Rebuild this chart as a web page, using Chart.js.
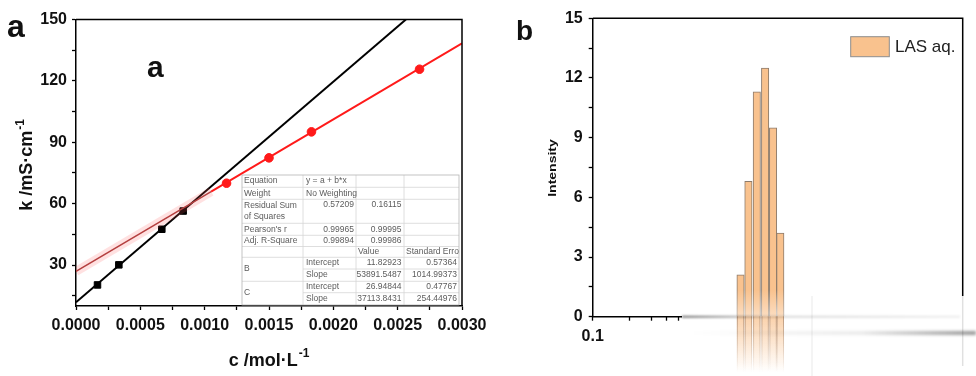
<!DOCTYPE html>
<html>
<head>
<meta charset="utf-8">
<script src="https://cdn.jsdelivr.net/npm/chart.js@4.4.0/dist/chart.umd.min.js"></script>
<style>
    html, body { margin: 0; padding: 0; background: #fff; }
    #wrap { position: relative; width: 976px; height: 376px; overflow: hidden; }
    #boxA { position: absolute; left: 0; top: 0; width: 500px; height: 376px; }
    #boxB { position: absolute; left: 500px; top: 0; width: 476px; height: 376px; }
</style>
</head>
<body>
<div id="wrap">
    <div id="boxA"><canvas id="chartA" width="500" height="376"></canvas></div>
    <div id="boxB"><canvas id="chartB" width="476" height="376"></canvas></div>
</div>
<script>
// ---- panel a data (conductivity vs concentration) ----
var blackC = [0.000167, 0.000333, 0.000667, 0.000833];
var blackK = [20.3, 30.1, 47.5, 56.4];
var redC = [0.00117, 0.0015, 0.00183, 0.00267];
var redK = [70.0, 82.4, 95.1, 125.7];
// fitted lines, end points
var blackLineC = [0, 0.002564];
var blackLineK = [11.8, 150];
var redExtraC = [0, 0.00105];
var redExtraK = [26.9, 65.9];
var redLineC = [0.00105, 0.003];
var redLineK = [65.9, 138.3];
var cTicks = [0, 0.00025, 0.0005, 0.00075, 0.001, 0.00125, 0.0015, 0.00175, 0.002, 0.00225, 0.0025, 0.00275, 0.003];
var cLabels = ['0.0000', '', '0.0005', '', '0.0010', '', '0.0015', '', '0.0020', '', '0.0025', '', '0.0030'];
var kTicks = [15, 30, 45, 60, 75, 90, 105, 120, 135, 150];
var kLabels = ['', '30', '', '60', '', '90', '', '120', '', '150'];

// fit table
var tabCol1 = ['Equation', 'Weight', 'Residual Sum|of Squares', "Pearson's r", 'Adj. R-Square', '', 'B', '', 'C', ''];
var tabCol2 = ['y = a + b*x', 'No Weighting', '', '', '', '', 'Intercept', 'Slope', 'Intercept', 'Slope'];
var tabCol3 = ['', '', '0.57209', '0.99965', '0.99894', '', '', '', '', ''];
var tabCol4 = ['', '', '0.16115', '0.99995', '0.99986', 'Value', '11.82923', '53891.5487', '26.94844', '37113.8431'];
var tabCol5 = ['', '', '', '', '', 'Standard Erro', '0.57364', '1014.99373', '0.47767', '254.44976'];

// ---- panel b data (size distribution) ----
var sizes = [1.58, 1.83, 2.14, 2.50, 2.90, 3.32];
var intensity = [2.1, 6.8, 11.3, 12.5, 9.5, 4.2];
var sizeTicks = [0.1, 0.2, 0.3, 0.4, 0.5];
var intTicks = [0, 1.5, 3, 4.5, 6, 7.5, 9, 10.5, 12, 13.5, 15];
var intLabels = ['0', '', '3', '', '6', '', '9', '', '12', '', '15'];

var FONT = "'Liberation Sans', Arial, Helvetica, sans-serif";

function toPts(xs, ys) {
    return xs.map(function (x, i) { return {x: x, y: ys[i]}; });
}

function supText(ctx, main, sup, x, y, size, align) {
    ctx.font = 'bold ' + size + 'px ' + FONT;
    var w1 = ctx.measureText(main).width;
    ctx.font = 'bold ' + Math.round(size * 0.68) + 'px ' + FONT;
    var w2 = ctx.measureText(sup).width;
    var start = align === 'center' ? x - (w1 + w2 + 1) / 2 : x;
    ctx.textAlign = 'left';
    ctx.textBaseline = 'alphabetic';
    ctx.font = 'bold ' + size + 'px ' + FONT;
    ctx.fillText(main, start, y);
    ctx.font = 'bold ' + Math.round(size * 0.68) + 'px ' + FONT;
    ctx.fillText(sup, start + w1 + 1, y - size * 0.45);
}

// top and right frame lines
var frameA = {
    id: 'frameA',
    afterDatasetsDraw: function (chart) {
        var a = chart.chartArea, ctx = chart.ctx;
        ctx.save();
        ctx.strokeStyle = '#000';
        ctx.lineWidth = 1.5;
        ctx.beginPath();
        ctx.moveTo(a.left, a.top);
        ctx.lineTo(a.right, a.top);
        ctx.lineTo(a.right, a.bottom);
        ctx.stroke();
        ctx.restore();
    }
};

var tableA = {
    id: 'tableA',
    afterDraw: function (chart) {
        var ctx = chart.ctx;
        var cols = [242, 303, 356, 404, 459];
        var rows = [175, 187.3, 199.3, 223.3, 235.3, 246.5, 257.3, 269, 281.3, 292.7, 305];
        ctx.save();
        ctx.fillStyle = '#fff';
        ctx.fillRect(cols[0], rows[0], cols[4] - cols[0], rows[10] - rows[0]);
        ctx.strokeStyle = '#d6d6d6';
        ctx.lineWidth = 0.8;
        ctx.beginPath();
        for (var r = 1; r < rows.length - 1; r++) {
            var x0 = (r === 7 || r === 9) ? cols[1] : cols[0];
            ctx.moveTo(x0, rows[r]);
            ctx.lineTo(cols[4], rows[r]);
        }
        for (var c = 1; c < cols.length - 1; c++) {
            ctx.moveTo(cols[c], rows[0]);
            ctx.lineTo(cols[c], rows[10]);
        }
        ctx.stroke();
        ctx.strokeStyle = '#b5b5b5';
        ctx.strokeRect(cols[0], rows[0], cols[4] - cols[0], rows[10] - rows[0]);

        ctx.fillStyle = '#5c5c5c';
        ctx.font = '8.5px ' + FONT;
        ctx.textBaseline = 'middle';
        ctx.beginPath();
        ctx.rect(cols[0], rows[0], cols[4] - cols[0], rows[10] - rows[0]);
        ctx.clip();
        for (var i = 0; i < 10; i++) {
            var mid = (rows[i] + rows[i + 1]) / 2;
            if (i === 2) mid = 205;
            var t1 = tabCol1[i];
            ctx.textAlign = 'left';
            if (t1.indexOf('|') >= 0) {
                var parts = t1.split('|');
                ctx.fillText(parts[0], 244, 205.5);
                ctx.fillText(parts[1], 244, 216.5);
            } else if (t1 === 'B' || t1 === 'C') {
                ctx.fillText(t1, 244, rows[i + 1]);
            } else {
                ctx.fillText(t1, 244, mid);
            }
            ctx.fillText(tabCol2[i], 306, mid);
            if (i === 5) {
                ctx.fillText(tabCol4[i], 358, mid);
                ctx.fillText(tabCol5[i], 406, mid);
            } else {
                ctx.textAlign = 'right';
                ctx.fillText(tabCol3[i], 354, mid);
                ctx.fillText(tabCol4[i], 401.5, mid);
                ctx.fillText(tabCol5[i], 457, mid);
            }
        }
        ctx.restore();
    }
};

var textA = {
    id: 'textA',
    afterDraw: function (chart) {
        var ctx = chart.ctx;
        ctx.save();
        ctx.fillStyle = '#111';
        ctx.textAlign = 'left';
        ctx.textBaseline = 'alphabetic';
        ctx.font = 'bold 32px ' + FONT;
        ctx.fillText('a', 7, 37);
        ctx.font = 'bold 30px ' + FONT;
        ctx.fillText('a', 147, 77);
        supText(ctx, 'c /mol\u00b7L', '-1', 269, 365.5, 18, 'center');
        ctx.translate(25, 165);
        ctx.rotate(-Math.PI / 2);
        supText(ctx, 'k /mS\u00b7cm', '-1', 0, 7, 18, 'center');
        ctx.restore();
    }
};

new Chart(document.getElementById('chartA'), {
    type: 'scatter',
    data: {
        datasets: [
            {data: toPts(redExtraC, redExtraK), showLine: true, borderColor: 'rgba(255,90,90,0.18)', borderWidth: 9, pointRadius: 0},
            {data: toPts(redExtraC, redExtraK), showLine: true, borderColor: '#a43a3a', borderWidth: 1.5, pointRadius: 0},
            {data: toPts(redLineC, redLineK), showLine: true, borderColor: '#ff1a1a', borderWidth: 2, pointRadius: 0},
            {data: toPts(blackLineC, blackLineK), showLine: true, borderColor: '#000', borderWidth: 2, pointRadius: 0},
            {data: toPts(blackC, blackK), pointStyle: 'rect', pointRadius: 4.6, backgroundColor: '#000', borderColor: '#000'},
            {data: toPts(redC, redK), pointStyle: 'circle', pointRadius: 4.3, backgroundColor: '#ff1a1a', borderColor: '#ff1a1a'}
        ]
    },
    options: {
        responsive: false,
        animation: false,
        devicePixelRatio: 1,
        layout: {padding: {left: 0, top: 19.5, right: 38, bottom: 0}},
        plugins: {legend: {display: false}, tooltip: {enabled: false}},
        scales: {
            x: {
                type: 'linear', min: 0, max: 0.003, offset: false,
                afterBuildTicks: function (s) { s.ticks = cTicks.map(function (v) { return {value: v}; }); },
                afterFit: function (s) { s.height = 70; },
                grid: {drawOnChartArea: false, tickLength: 4, color: '#000', tickWidth: 1.3},
                border: {color: '#000', width: 1.5},
                ticks: {
                    autoSkip: false, maxRotation: 0, padding: 6, color: '#111',
                    font: {family: FONT, size: 16, weight: 'bold'},
                    callback: function (v, i) { return cLabels[i]; }
                }
            },
            y: {
                min: 10, max: 150,
                afterBuildTicks: function (s) { s.ticks = kTicks.map(function (v) { return {value: v}; }); },
                afterFit: function (s) { s.width = 76; },
                grid: {drawOnChartArea: false, tickLength: 4, color: '#000', tickWidth: 1.3},
                border: {color: '#000', width: 1.5},
                ticks: {
                    autoSkip: false, padding: 5, color: '#111',
                    font: {family: FONT, size: 16, weight: 'bold'},
                    callback: function (v, i) { return kLabels[i]; }
                }
            }
        }
    },
    plugins: [frameA, tableA, textA]
});

// ---- panel b ----
var BAR_FILL = '#f9c28e';
var BAR_EDGE = '#8c7b6c';

var decoB = {
    id: 'decoB',
    afterDatasetsDraw: function (chart) {
        var a = chart.chartArea, ctx = chart.ctx;
        var fadeTop = 296;
        ctx.save();
        // washed-out lower part and reflection of the bars
        chart.getDatasetMeta(0).data.forEach(function (el) {
            var p = el.getProps(['x', 'base', 'width'], true);
            var l = p.x - p.width / 2;
            var g1 = ctx.createLinearGradient(0, fadeTop - 6, 0, p.base);
            g1.addColorStop(0, 'rgba(255,255,255,0)');
            g1.addColorStop(1, 'rgba(255,255,255,0.45)');
            ctx.fillStyle = g1;
            ctx.fillRect(l - 0.5, fadeTop - 6, p.width + 1, p.base - fadeTop + 6);
            var g2 = ctx.createLinearGradient(0, p.base, 0, 372);
            g2.addColorStop(0, 'rgba(249,194,142,0.75)');
            g2.addColorStop(1, 'rgba(249,194,142,0)');
            ctx.fillStyle = g2;
            ctx.fillRect(l, p.base, p.width, 372 - p.base);
            var g3 = ctx.createLinearGradient(0, p.base, 0, 372);
            g3.addColorStop(0, 'rgba(140,110,90,0.55)');
            g3.addColorStop(1, 'rgba(140,110,90,0)');
            ctx.fillStyle = g3;
            ctx.fillRect(l, p.base, 1, 372 - p.base);
            ctx.fillRect(l + p.width - 1, p.base, 1, 372 - p.base);
        });
        // frame: top and right
        ctx.strokeStyle = '#000';
        ctx.lineWidth = 1.5;
        ctx.beginPath();
        ctx.moveTo(a.left, a.top);
        ctx.lineTo(a.right, a.top);
        ctx.lineTo(a.right, fadeTop);
        ctx.stroke();
        ctx.strokeStyle = 'rgba(0,0,0,0.12)';
        ctx.beginPath();
        ctx.moveTo(a.right, fadeTop);
        ctx.lineTo(a.right, 366);
        ctx.stroke();
        // x axis line, solid then fading out
        var y0 = a.bottom;
        ctx.strokeStyle = '#000';
        ctx.beginPath();
        ctx.moveTo(a.left, y0);
        ctx.lineTo(182, y0);
        ctx.stroke();
        ctx.filter = 'blur(0.8px)';
        var g4 = ctx.createLinearGradient(182, 0, 460, 0);
        g4.addColorStop(0, 'rgba(0,0,0,0.55)');
        g4.addColorStop(0.3, 'rgba(0,0,0,0.16)');
        g4.addColorStop(1, 'rgba(0,0,0,0.07)');
        ctx.strokeStyle = g4;
        ctx.lineWidth = 2;
        ctx.beginPath();
        ctx.moveTo(182, y0);
        ctx.lineTo(460, y0);
        ctx.stroke();
        // blurred streak below the axis
        ctx.filter = 'blur(1.5px)';
        var g5 = ctx.createLinearGradient(190, 0, 476, 0);
        g5.addColorStop(0, 'rgba(0,0,0,0)');
        g5.addColorStop(0.6, 'rgba(0,0,0,0.08)');
        g5.addColorStop(1, 'rgba(0,0,0,0.4)');
        ctx.strokeStyle = g5;
        ctx.lineWidth = 4;
        ctx.beginPath();
        ctx.moveTo(190, 333);
        ctx.lineTo(476, 333);
        ctx.stroke();
        ctx.filter = 'none';
        ctx.strokeStyle = 'rgba(0,0,0,0.06)';
        ctx.lineWidth = 1.5;
        ctx.beginPath();
        ctx.moveTo(312, 296);
        ctx.lineTo(312, 376);
        ctx.stroke();
        ctx.restore();
    },
    afterDraw: function (chart) {
        var ctx = chart.ctx;
        ctx.save();
        ctx.fillStyle = '#111';
        ctx.textBaseline = 'alphabetic';
        ctx.textAlign = 'left';
        ctx.font = 'bold 28px ' + FONT;
        ctx.fillText('b', 16, 40);
        // legend
        ctx.fillStyle = BAR_FILL;
        ctx.fillRect(350.7, 36.7, 38.6, 20);
        ctx.strokeStyle = '#8e8e8e';
        ctx.lineWidth = 1;
        ctx.strokeRect(350.7, 36.7, 38.6, 20);
        ctx.fillStyle = '#222';
        ctx.font = '17px ' + FONT;
        ctx.fillText(chart.data.datasets[0].label, 395, 52);
        // y title
        ctx.translate(51, 168);
        ctx.rotate(-Math.PI / 2);
        ctx.scale(1.4, 1);
        ctx.font = 'bold 10px ' + FONT;
        ctx.textAlign = 'center';
        ctx.fillStyle = '#111';
        ctx.fillText('Intensity', 0, 4.5);
        ctx.restore();
    }
};

new Chart(document.getElementById('chartB'), {
    type: 'bar',
    data: {
        datasets: [{
            label: 'LAS aq.',
            data: toPts(sizes, intensity),
            backgroundColor: BAR_FILL,
            borderColor: BAR_EDGE,
            borderWidth: 1,
            barThickness: 7.4
        }]
    },
    options: {
        responsive: false,
        animation: false,
        devicePixelRatio: 1,
        layout: {padding: {left: 0, top: 18.3, right: 13.3, bottom: 0}},
        plugins: {legend: {display: false}, tooltip: {enabled: false}},
        scales: {
            x: {
                type: 'logarithmic', min: 0.1, max: 100, offset: false,
                afterBuildTicks: function (s) { s.ticks = sizeTicks.map(function (v) { return {value: v}; }); },
                afterFit: function (s) { s.height = 59.3; },
                grid: {drawOnChartArea: false, offset: false, tickLength: 4, color: '#000', tickWidth: 1.3},
                border: {display: false},
                ticks: {
                    autoSkip: false, maxRotation: 0, padding: 6, color: '#111',
                    font: {family: FONT, size: 16, weight: 'bold'},
                    callback: function (v, i) { return i === 0 ? '0.1' : ''; }
                }
            },
            y: {
                min: 0, max: 15,
                afterBuildTicks: function (s) { s.ticks = intTicks.map(function (v) { return {value: v}; }); },
                afterFit: function (s) { s.width = 92.7; },
                grid: {drawOnChartArea: false, tickLength: 4, color: '#000', tickWidth: 1.3},
                border: {color: '#000', width: 1.5},
                ticks: {
                    autoSkip: false, padding: 6, color: '#111',
                    font: {family: FONT, size: 16, weight: 'bold'},
                    callback: function (v, i) { return intLabels[i]; }
                }
            }
        }
    },
    plugins: [decoB]
});
</script>
</body>
</html>
